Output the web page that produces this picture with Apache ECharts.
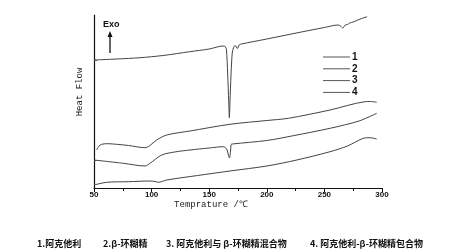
<!DOCTYPE html>
<html><head><meta charset="utf-8">
<script src="https://cdn.jsdelivr.net/npm/echarts@6/dist/echarts.min.js"></script>
<style>html,body{margin:0;padding:0;background:#fff}#c{width:474px;height:250px}</style>
</head><body><div id="c"></div>
<script>
const seriesNames = ['1', '2', '3', '4'];
const xTicks = [50, 100, 150, 200, 250, 300];
const captions = ['1.阿克他利', '2.β-环糊精', '3. 阿克他利与 β-环糊精混合物', '4. 阿克他利-β-环糊精包合物'];

const x1 = [50, 70, 90, 110, 133, 150, 162, 164, 165, 166, 167, 167.5, 168, 169, 170, 171, 172.5, 174.5, 176, 178, 200, 230, 250, 262, 264, 266, 268, 270, 272, 275, 280, 287];
const y1 = [128, 129, 130.3, 132.5, 136.3, 139, 142, 141.3, 138, 115, 85, 70, 85, 115, 135, 140, 142.5, 139.5, 143, 144, 149, 156, 160.5, 163, 162, 160, 163, 163.5, 165, 166, 168.5, 171.3];

const x2 = [52.3, 54, 56.7, 62, 69.7, 80, 94.3, 98, 104.4, 113.1, 133.3, 168, 200, 218.7, 254.9, 285.2, 290, 295.4];
const y2 = [38, 41.5, 43.7, 44.3, 43.7, 42.5, 40.3, 42, 48, 53, 57, 63.7, 67.5, 69.7, 78, 86.3, 86.5, 85.7];

const x3 = [50, 75.4, 94.3, 98.6, 108.8, 120, 133.3, 150, 162.2, 164, 165.5, 166.5, 167.5, 168.5, 169, 170, 200, 223, 254.9, 280, 295.4];
const y3 = [28, 24.7, 22, 24.7, 33, 36, 38, 40, 41.3, 40.5, 38, 34, 30, 36, 43.5, 44, 47.5, 52.3, 59.7, 67, 74.7];

const x4 = [50, 61, 80, 98.6, 103, 105.8, 113.1, 140, 168, 200, 226, 254.9, 270, 283.8, 289.6, 295.4];
const y4 = [3, 5.7, 6.3, 7, 6.5, 5.7, 8, 12.5, 17, 22, 28, 36.3, 42, 49.7, 50.3, 49];

const xs = [x1, x2, x3, x4];
const ys = [y1, y2, y3, y4];

const chart = echarts.init(document.getElementById('c'), null, {renderer: 'canvas'});
const lineColor = '#444';
chart.setOption({
  animation: false,
  backgroundColor: '#ffffff',
  grid: {left: 94, right: 92, top: 15, bottom: 62},
  xAxis: {
    type: 'value', min: 50, max: 300, interval: 50,
    axisLine: {lineStyle: {color: '#111', width: 1.2}},
    axisTick: {length: 4, lineStyle: {color: '#111'}},
    minorTick: {show: true, splitNumber: 2, length: 3, lineStyle: {color: '#111'}},
    splitLine: {show: false},
    axisLabel: {margin: 3, fontSize: 8, fontWeight: 'bold', color: '#111', fontFamily: 'Liberation Sans'}
  },
  yAxis: {
    type: 'value', min: 0, max: 173,
    axisLine: {show: true, lineStyle: {color: '#111', width: 1.2}},
    axisTick: {show: true, inside: true, length: 3, customValues: [28, 128], lineStyle: {color: '#555'}},
    axisLabel: {show: false},
    splitLine: {show: false}
  },
  legend: {
    orient: 'vertical', left: 318, top: 47, itemWidth: 27, itemHeight: 1, itemGap: 1.8,
    icon: 'rect',
    textStyle: {fontSize: 10, fontWeight: 'bold', color: '#111', fontFamily: 'Liberation Sans', padding: [0, 0, 0, -3], lineHeight: 10},
    data: seriesNames.map(n => ({name: n, itemStyle: {color: '#555'}}))
  },
  series: seriesNames.map((n, i) => ({
    name: n, type: 'line', symbol: 'none', smooth: 0.3,
    lineStyle: {color: lineColor, width: 1},
    itemStyle: {color: lineColor},
    data: xs[i].map((x, j) => [x, ys[i][j]])
  })),
  graphic: [
    {type: 'text', left: 103, top: 20, style: {text: 'Exo', fontSize: 9, fontWeight: 'bold', fill: '#111', fontFamily: 'Liberation Sans'}},
    {type: 'line', shape: {x1: 110, y1: 53, x2: 110, y2: 35}, style: {stroke: '#111', lineWidth: 1.3}},
    {type: 'polygon', shape: {points: [[107.5, 37], [112.5, 37], [110, 31]]}, style: {fill: '#111'}},
    {type: 'text', x: 80, y: 92, rotation: Math.PI / 2, style: {text: 'Heat Flow', fontSize: 9, fill: '#222', fontFamily: 'Liberation Mono', align: 'center', verticalAlign: 'middle'}},
    {type: 'text', x: 211, y: 205, style: {text: 'Temprature /℃', fontSize: 9, fill: '#222', fontFamily: 'Liberation Mono', align: 'center', verticalAlign: 'middle'}},
    {type: 'text', x: 37, y: 243.5, style: {text: captions[0], fontSize: 9, fontWeight: 'bold', fill: '#111', fontFamily: 'Noto Sans CJK SC', verticalAlign: 'middle'}},
    {type: 'text', x: 103, y: 243.5, style: {text: captions[1], fontSize: 9, fontWeight: 'bold', fill: '#111', fontFamily: 'Noto Sans CJK SC', verticalAlign: 'middle'}},
    {type: 'text', x: 166, y: 243.5, style: {text: captions[2], fontSize: 9, fontWeight: 'bold', fill: '#111', fontFamily: 'Noto Sans CJK SC', verticalAlign: 'middle'}},
    {type: 'text', x: 310, y: 243.5, style: {text: captions[3], fontSize: 9, fontWeight: 'bold', fill: '#111', fontFamily: 'Noto Sans CJK SC', verticalAlign: 'middle'}}
  ]
});
</script></body></html>
